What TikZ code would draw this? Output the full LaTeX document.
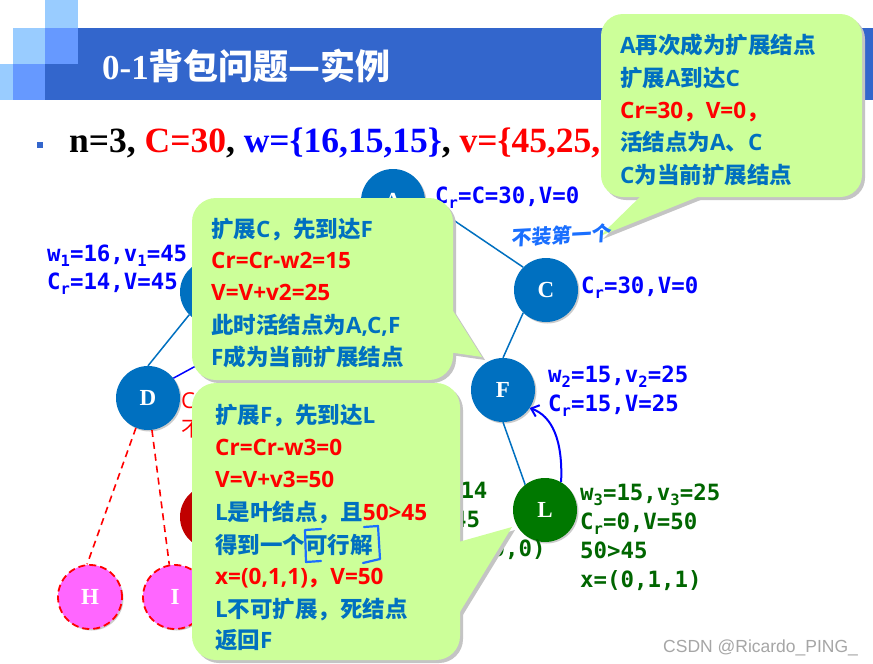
\documentclass[tikz,border=0pt]{standalone}
\usepackage{fontspec}
\setmainfont{Liberation Serif}
\newfontfamily\cjk{Noto Sans CJK SC}
\newfontfamily\latf{Open Sans}
\newfontfamily\monof{DejaVu Sans Mono}
\newfontfamily\wmf{Liberation Sans}
\newfontfamily\handf{Noto Sans CJK SC}[FakeSlant=0.12]
\usetikzlibrary{arrows.meta,shadows}
\definecolor{band}{HTML}{3366CC}
\definecolor{sqlight}{HTML}{99CCFF}
\definecolor{sqmid}{HTML}{6699FF}
\definecolor{nblue}{HTML}{0070C0}
\definecolor{lblue}{HTML}{0000FF}
\definecolor{cgreen}{HTML}{CCFF99}
\definecolor{lgreen}{HTML}{006600}
\definecolor{ngreen}{HTML}{007800}
\definecolor{dred}{HTML}{C00000}
\definecolor{pinkc}{HTML}{FF66FF}
\definecolor{handc}{HTML}{1A6FFF}
\definecolor{shc}{HTML}{C4C4C4}
\definecolor{wmc}{HTML}{A6A6A6}
\newcommand\mysub[1]{\raisebox{-5pt}{\fontsize{15.5}{15.5}\selectfont #1}}
\newcommand\lat[1]{{\latf #1}}
\tikzset{
  tnode/.style={circle, minimum size=64pt, inner sep=0pt, fill=nblue, text=white,
    font=\bfseries\fontsize{23}{23}\selectfont,
    drop shadow={shadow xshift=1.5pt, shadow yshift=-1.5pt, fill=black!40, opacity=0.5}},
  dnode/.style={tnode, fill=pinkc, draw=red, line width=1.8pt, dash pattern=on 7pt off 4pt},
  edge/.style={draw=nblue, line width=1.5pt},
  dedge/.style={draw=red, line width=1.6pt, dash pattern=on 7pt off 5pt},
  lbl/.style={anchor=base west, inner sep=0pt, text=lblue, font=\monof\bfseries\fontsize{22.4}{24}\selectfont},
  glbl/.style={lbl, text=lgreen},
  ct/.style={anchor=base west, inner sep=0pt, text=nblue, font=\cjk\bfseries\fontsize{22.5}{24}\selectfont},
  plain/.style={anchor=base west, inner sep=0pt}
}
\begin{document}
\begin{tikzpicture}[x=1pt,y=-1pt]
\useasboundingbox (0,0) rectangle (873,664);
\fill[white] (0,0) rectangle (873,664);
% header decoration
\fill[sqlight] (45,0) rectangle (78,28);
\fill[sqlight] (13,28) rectangle (45,64);
\fill[sqlight] (0,64) rectangle (13,100);
\fill[sqmid] (45,28) rectangle (78,64);
\fill[sqmid] (13,64) rectangle (45,100);
\fill[band] (78,28) rectangle (873,64);
\fill[band] (45,64) rectangle (873,100);
\node[plain, text=white, font=\bfseries\fontsize{35}{35}\selectfont] (title) at (102,79) {0-1{\cjk 背包问题—实例}};
% data line
\fill[band] (37,142) rectangle (43,148);
\node[plain, font=\bfseries\fontsize{35.5}{35.5}\selectfont] (data) at (69,152)
  {n=3, \textcolor{red}{C=30}, \textcolor{lblue}{w=\{16,15,15\}}, \textcolor{red}{v=\{45,25,2}};
% tree nodes
\node[tnode] (A) at (393,201) {A};
\node[tnode] (B) at (212,292) {};
\node[tnode] (C) at (546,290) {C};
\node[tnode] (D) at (148,398) {D};
\node[tnode] (F) at (503,390) {F};
\node[tnode, fill=ngreen] (L) at (545,510) {L};
\node[tnode, fill=dred] (R) at (212,517) {};
\node[dnode] (H) at (90,597) {H};
\node[dnode] (I) at (175,597) {I};
\coordinate (dE) at (240,342);
% edges
\draw[edge] (A) -- (B);
\draw[edge] (A.east) -- (C.135);
\draw[edge] (C.225) -- (F.north);
\draw[edge] (F.south) -- (L.128);
\draw[edge] (B.225) -- (D.north);
\draw[lblue, line width=1.5pt] (D.38) -- (dE);
\draw[dedge] (D.248) -- (H.95);
\draw[dedge] (D.277) -- (I.100);
\draw[lblue, line width=2pt, -{Straight Barb[length=7pt,width=12pt]}] (L.60) .. controls (563,440) and (552,416) .. (F.-34);
% labels
\node[lbl] (lA) at (435,203) {C\mysub{r}=C=30,V=0};
\node[lbl] (lC) at (581,293) {C\mysub{r}=30,V=0};
\node[lbl] (lF1) at (548,382) {w\mysub{2}=15,v\mysub{2}=25};
\node[lbl] (lF2) at (548,411) {C\mysub{r}=15,V=25};
\node[lbl] (lB1) at (47,261) {w\mysub{1}=16,v\mysub{1}=45};
\node[lbl] (lB2) at (47,289) {C\mysub{r}=14,V=45};
\node[glbl] (lL1) at (580,500) {w\mysub{3}=15,v\mysub{3}=25};
\node[glbl] (lL2) at (580,529) {C\mysub{r}=0,V=50};
\node[glbl] (lL3) at (580,558) {50>45};
\node[glbl] (lL4) at (580,587) {x=(0,1,1)};
\node[glbl] (lR1) at (424,498) {C\mysub{r}=14};
\node[glbl] (lR2) at (426,527) {V=45};
\node[glbl] (lR3) at (424,556) {x=(1,0,0)};
\node[plain, text=red, font=\latf\fontsize{22}{22}\selectfont] (dt1) at (181,408) {C};
\node[plain, text=red, font=\cjk\fontsize{21}{22}\selectfont] (dt2) at (181,436) {不};
% callout shadows
\fill[shc, rounded corners=22pt] (604,17) rectangle (865,200);
\fill[shc] (648,195) -- (713,195) -- (603,239) -- cycle;
\fill[shc, rounded corners=24pt] (195,201) rectangle (456,383);
\fill[shc] (451,306) -- (451,355) -- (485,360) -- cycle;
\fill[shc, rounded corners=24pt] (195,386) rectangle (463,663);
\fill[shc] (458,546) -- (515,530) -- (458,623) -- cycle;
% callout fills
\fill[cgreen, rounded corners=22pt] (601,14) rectangle (862,197);
\fill[cgreen] (645,192) -- (710,192) -- (600,236) -- cycle;
\fill[cgreen, rounded corners=24pt] (192,198) rectangle (453,380);
\fill[cgreen] (448,303) -- (448,352) -- (482,357) -- cycle;
\fill[cgreen, rounded corners=24pt] (192,383) rectangle (460,660);
\fill[cgreen] (455,543) -- (512,527) -- (455,620) -- cycle;
% callout 1 text
\node[ct] (a1) at (620,53) {\lat{A}再次成为扩展结点};
\node[ct] (a2) at (620,86) {扩展\lat{A}到达\lat{C}};
\node[ct, text=red] (a3) at (620,118) {\lat{Cr=30}，\lat{V=0}，};
\node[ct] (a4) at (620,150) {活结点为\lat{A}、\lat{C}};
\node[ct] (a5) at (620,183) {\lat{C}为当前扩展结点};
% callout 2 text
\node[ct] (b1) at (211,237) {扩展\lat{C}，先到达\lat{F}};
\node[ct, text=red] (b2) at (211,268) {\lat{Cr=Cr-w2=15}};
\node[ct, text=red] (b3) at (211,300) {\lat{V=V+v2=25}};
\node[ct] (b4) at (211,333) {此时活结点为\lat{A,C,F}};
\node[ct] (b5) at (211,365) {\lat{F}成为当前扩展结点};
% callout 3 text
\node[ct] (c1) at (215,423) {扩展\lat{F}，先到达\lat{L}};
\node[ct, text=red] (c2) at (215,455) {\lat{Cr=Cr-w3=0}};
\node[ct, text=red] (c3) at (215,487) {\lat{V=V+v3=50}};
\node[ct] (c4) at (215,520) {\lat{L}是叶结点，且\textcolor{red}{\lat{50>45}}};
\node[ct] (c5) at (215,553) {得到一个可行解};
\node[ct, text=red] (c6) at (215,584) {\lat{x=(0,1,1)}，\lat{V=50}};
\node[ct] (c7) at (215,617) {\lat{L}不可扩展，死结点};
\node[ct] (c8) at (215,648) {返回\lat{F}};
% handwriting
\node[inner sep=0pt, text=handc, font=\handf\bfseries\fontsize{20}{20}\selectfont, rotate=3] (hw) at (561,235) {不装第一个};
\draw[handc, line width=2.2pt, line cap=round, line join=round] (321,529) -- (305,530) -- (306,562) -- (321,561);
\draw[handc, line width=2.2pt, line cap=round, line join=round] (364,527) -- (378,526) -- (380,559) -- (363,563);
% watermark
\node[plain, text=wmc, font=\wmf\fontsize{17.5}{18}\selectfont] (wmk) at (663,652) {CSDN @Ricardo\_PING\_};
\end{tikzpicture}
\end{document}
